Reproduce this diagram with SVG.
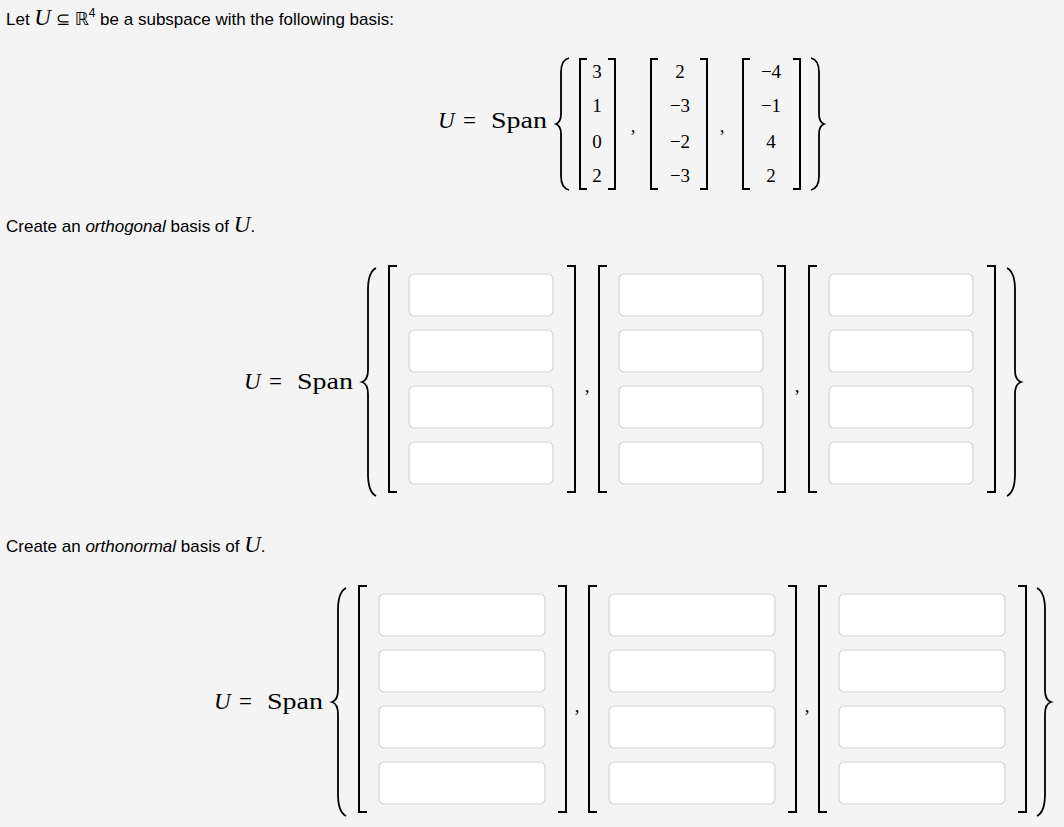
<svg xmlns="http://www.w3.org/2000/svg" width="1064" height="827" viewBox="0 0 1064 827">
<style>
.t{font-family:"Liberation Sans",Arial,sans-serif;font-size:17px;fill:#000}
.m{font-family:"Liberation Serif","DejaVu Serif",serif;font-size:23px;fill:#000}
.n{font-family:"Liberation Serif","DejaVu Serif",serif;font-size:19px;fill:#000;text-anchor:middle}
.b{fill:#fff;stroke:#d4d4d4;stroke-width:1.2}
.k{fill:none;stroke:#000;stroke-width:2}
.br{fill:none;stroke:#000;stroke-width:1.8}
</style>
<rect width="1064" height="827" fill="#f4f4f4"/>
<text x="6" y="25" class="t">Let <tspan class="m" font-size="22" font-style="italic">U</tspan> ⊆ <tspan font-family="DejaVu Sans" font-size="18">ℝ</tspan><tspan font-size="12" dy="-8">4</tspan><tspan dy="8"> be a subspace with the following basis:</tspan></text>
<g class="m"><text x="438" y="128" font-style="italic">U</text><text x="463" y="128">=</text><text x="491" y="128" textLength="56" lengthAdjust="spacingAndGlyphs">Span</text></g>
<path class="br" d="M569,58 Q561,60 561,72 L561,114 Q561,122 556,124 Q561,126 561,134 L561,176 Q561,188 569,190"/>
<path class="br" d="M811,58 Q819,60 819,72 L819,114 Q819,122 824,124 Q819,126 819,134 L819,176 Q819,188 811,190"/>
<path class="k" d="M587,59 L580,59 L580,189 L587,189 M608,59 L615,59 L615,189 L608,189"/>
<path class="k" d="M658,59 L651,59 L651,189 L658,189 M700,59 L707,59 L707,189 L700,189"/>
<path class="k" d="M750,59 L743,59 L743,189 L750,189 M793,59 L800,59 L800,189 L793,189"/>
<g class="n">
<text x="597" y="78">3</text><text x="597" y="112">1</text><text x="597" y="148">0</text><text x="597" y="182">2</text>
<text x="680" y="78">2</text><text x="680" y="112">−3</text><text x="680" y="148">−2</text><text x="680" y="182">−3</text>
<text x="771" y="78">−4</text><text x="771" y="112">−1</text><text x="771" y="148">4</text><text x="771" y="182">2</text>
</g>
<text x="633" y="132" class="n">,</text><text x="722" y="132" class="n">,</text>

<text x="6" y="232" class="t">Create an <tspan font-style="italic">orthogonal</tspan> basis of <tspan class="m" font-size="22" font-style="italic">U</tspan>.</text>
<g class="m"><text x="244" y="389" font-style="italic">U</text><text x="269" y="389">=</text><text x="297" y="389" textLength="56" lengthAdjust="spacingAndGlyphs">Span</text></g>
<path class="br" d="M376,268 Q368,272 368,290 L368,370 Q368,380 362,382 Q368,384 368,394 L368,474 Q368,492 376,496"/>
<path class="br" d="M1007,268 Q1015,272 1015,290 L1015,370 Q1015,380 1021,382 Q1015,384 1015,394 L1015,474 Q1015,492 1007,496"/>
<g>
<path class="k" d="M397,266 L389,266 L389,492 L397,492 M567,266 L575,266 L575,492 L567,492"/>
<path class="k" d="M607,266 L599,266 L599,492 L607,492 M777,266 L785,266 L785,492 L777,492"/>
<path class="k" d="M817,266 L809,266 L809,492 L817,492 M987,266 L995,266 L995,492 L987,492"/>
</g>
<g>
<rect class="b" x="409" y="274" width="144" height="42" rx="5"/><rect class="b" x="409" y="330" width="144" height="42" rx="5"/><rect class="b" x="409" y="386" width="144" height="42" rx="5"/><rect class="b" x="409" y="442" width="144" height="42" rx="5"/>
<rect class="b" x="619" y="274" width="144" height="42" rx="5"/><rect class="b" x="619" y="330" width="144" height="42" rx="5"/><rect class="b" x="619" y="386" width="144" height="42" rx="5"/><rect class="b" x="619" y="442" width="144" height="42" rx="5"/>
<rect class="b" x="829" y="274" width="144" height="42" rx="5"/><rect class="b" x="829" y="330" width="144" height="42" rx="5"/><rect class="b" x="829" y="386" width="144" height="42" rx="5"/><rect class="b" x="829" y="442" width="144" height="42" rx="5"/>
</g>
<text x="587" y="392" class="n">,</text><text x="797" y="392" class="n">,</text>

<text x="6" y="552" class="t">Create an <tspan font-style="italic">orthonormal</tspan> basis of <tspan class="m" font-size="22" font-style="italic">U</tspan>.</text>
<g class="m"><text x="214" y="709" font-style="italic">U</text><text x="239" y="709">=</text><text x="267" y="709" textLength="56" lengthAdjust="spacingAndGlyphs">Span</text></g>
<path class="br" d="M346,588 Q338,592 338,610 L338,690 Q338,700 332,702 Q338,704 338,714 L338,794 Q338,812 346,816"/>
<path class="br" d="M1037,588 Q1045,592 1045,610 L1045,690 Q1045,700 1051,702 Q1045,704 1045,714 L1045,794 Q1045,812 1037,816"/>
<g>
<path class="k" d="M367,586 L359,586 L359,812 L367,812 M558,586 L566,586 L566,812 L558,812"/>
<path class="k" d="M597,586 L589,586 L589,812 L597,812 M788,586 L796,586 L796,812 L788,812"/>
<path class="k" d="M827,586 L819,586 L819,812 L827,812 M1018,586 L1026,586 L1026,812 L1018,812"/>
</g>
<g>
<rect class="b" x="379" y="594" width="166" height="42" rx="5"/><rect class="b" x="379" y="650" width="166" height="42" rx="5"/><rect class="b" x="379" y="706" width="166" height="42" rx="5"/><rect class="b" x="379" y="762" width="166" height="42" rx="5"/>
<rect class="b" x="609" y="594" width="166" height="42" rx="5"/><rect class="b" x="609" y="650" width="166" height="42" rx="5"/><rect class="b" x="609" y="706" width="166" height="42" rx="5"/><rect class="b" x="609" y="762" width="166" height="42" rx="5"/>
<rect class="b" x="839" y="594" width="166" height="42" rx="5"/><rect class="b" x="839" y="650" width="166" height="42" rx="5"/><rect class="b" x="839" y="706" width="166" height="42" rx="5"/><rect class="b" x="839" y="762" width="166" height="42" rx="5"/>
</g>
<text x="577" y="712" class="n">,</text><text x="807" y="712" class="n">,</text>
</svg>
